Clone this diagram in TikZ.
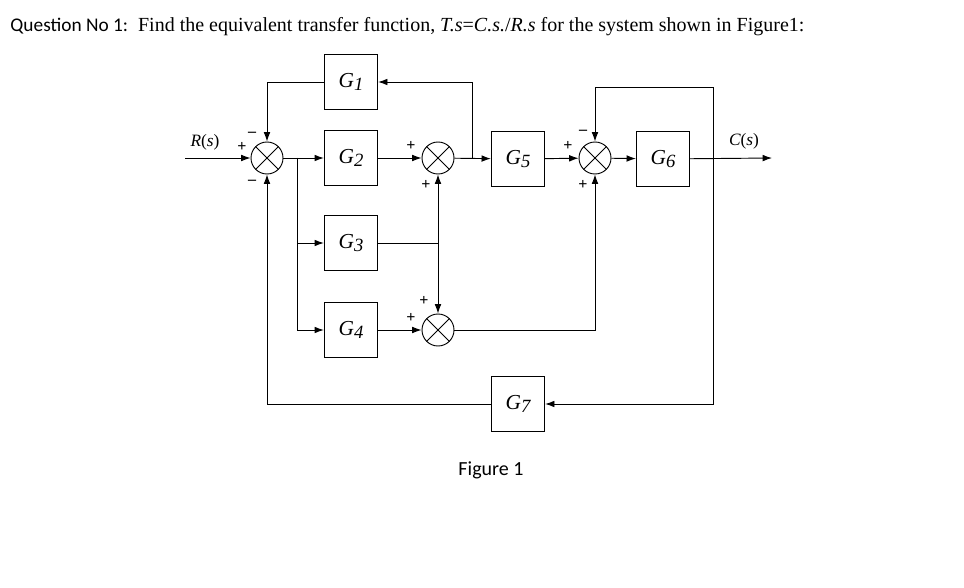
\documentclass[tikz,border=0pt]{standalone}
\usepackage{fontspec}
\setmainfont{Liberation Serif}
\newfontfamily\carlitofont{Carlito}
\usetikzlibrary{arrows.meta}
\newcommand{\gl}[1]{\textit{G}\raisebox{-2pt}{\fontsize{14}{14}\selectfont\itshape #1}}
\begin{document}
\begin{tikzpicture}[x=0.75pt,y=-0.75pt,line width=0.7pt,
  blk/.style={draw,minimum width=40pt,minimum height=41pt,inner sep=0pt,font=\fontsize{16}{18}\selectfont},
  sum/.style={draw,circle,minimum size=24pt,inner sep=0pt,path picture={\draw (path picture bounding box.south west)--(path picture bounding box.north east)(path picture bounding box.north west)--(path picture bounding box.south east);}},
  a/.style={-{Latex[length=7pt,width=5pt]}},
  sg/.style={font=\fontsize{12}{12}\selectfont\bfseries,inner sep=0pt}]
\useasboundingbox (0,0) rectangle (964,588);
\node[anchor=west,inner sep=0pt] (title) at (10,27) {{\carlitofont\fontsize{14.5}{16}\selectfont Question No 1:}\fontsize{15}{16}\selectfont\ \ Find the equivalent transfer function, \textit{T.s}=\textit{C.s.}/\textit{R.s} for the system shown in Figure1:};
\node[sum] (s1) at (267,158) {};
\node[sum] (s2) at (438,158) {};
\node[sum] (s3) at (438,330) {};
\node[sum] (s4) at (595,158) {};
\node[blk] (g1) at (351,82) {\gl{1}};
\node[blk] (g2) at (351,158) {\gl{2}};
\node[blk] (g3) at (351,243) {\gl{3}};
\node[blk] (g4) at (351,330) {\gl{4}};
\node[blk] (g5) at (518,159) {\gl{5}};
\node[blk] (g6) at (663,159) {\gl{6}};
\node[blk] (g7) at (518,404) {\gl{7}};
\coordinate (in) at (185,158);
\coordinate (out) at (772,158);
\coordinate (b1) at (297,158);
\coordinate (b2) at (472,158);
\coordinate (b3) at (438,243);
\coordinate (b4) at (713,158);
\node[inner sep=0pt,font=\fontsize{13}{14}\selectfont] (rl) at (205,142) {\textit{R}(\textit{s})};
\node[inner sep=0pt,font=\fontsize{13}{14}\selectfont] (cl) at (744,141) {\textit{C}(\textit{s})};
\node[inner sep=0pt,font=\carlitofont\fontsize{15}{16}\selectfont] (fig) at (491,470) {Figure 1};
\draw[a] (in) -- (s1);
\draw[a] (s1) -- (g2);
\draw[a] (b1) |- (g3);
\draw[a] (b1) |- (g4);
\draw[a] (g2) -- (s2);
\draw[a] (g4) -- (s3);
\draw (g3) -- (b3);
\draw[a] (b3) -- (s2);
\draw[a] (b3) -- (s3);
\draw[a] (s2) -- (g5);
\draw[a] (b2) |- (g1);
\draw[a] (g1) -| (s1);
\draw[a] (g5) -- (s4);
\draw[a] (s4) -- (g6);
\draw[a] (g6) -- (out);
\draw[a] (b4) |- (595,87) -- (s4);
\draw[a] (b4) |- (g7);
\draw[a] (g7) -| (s1);
\draw[a] (s3) -| (s4);
\node[sg] at (242,147) {+};
\node[sg] at (252,134) {--};
\node[sg] at (252,182) {--};
\node[sg] at (411,146) {+};
\node[sg] at (426,185) {+};
\node[sg] at (411,318) {+};
\node[sg] at (424,301) {+};
\node[sg] at (568,146) {+};
\node[sg] at (583,132) {--};
\node[sg] at (583,185) {+};
\end{tikzpicture}
\end{document}
